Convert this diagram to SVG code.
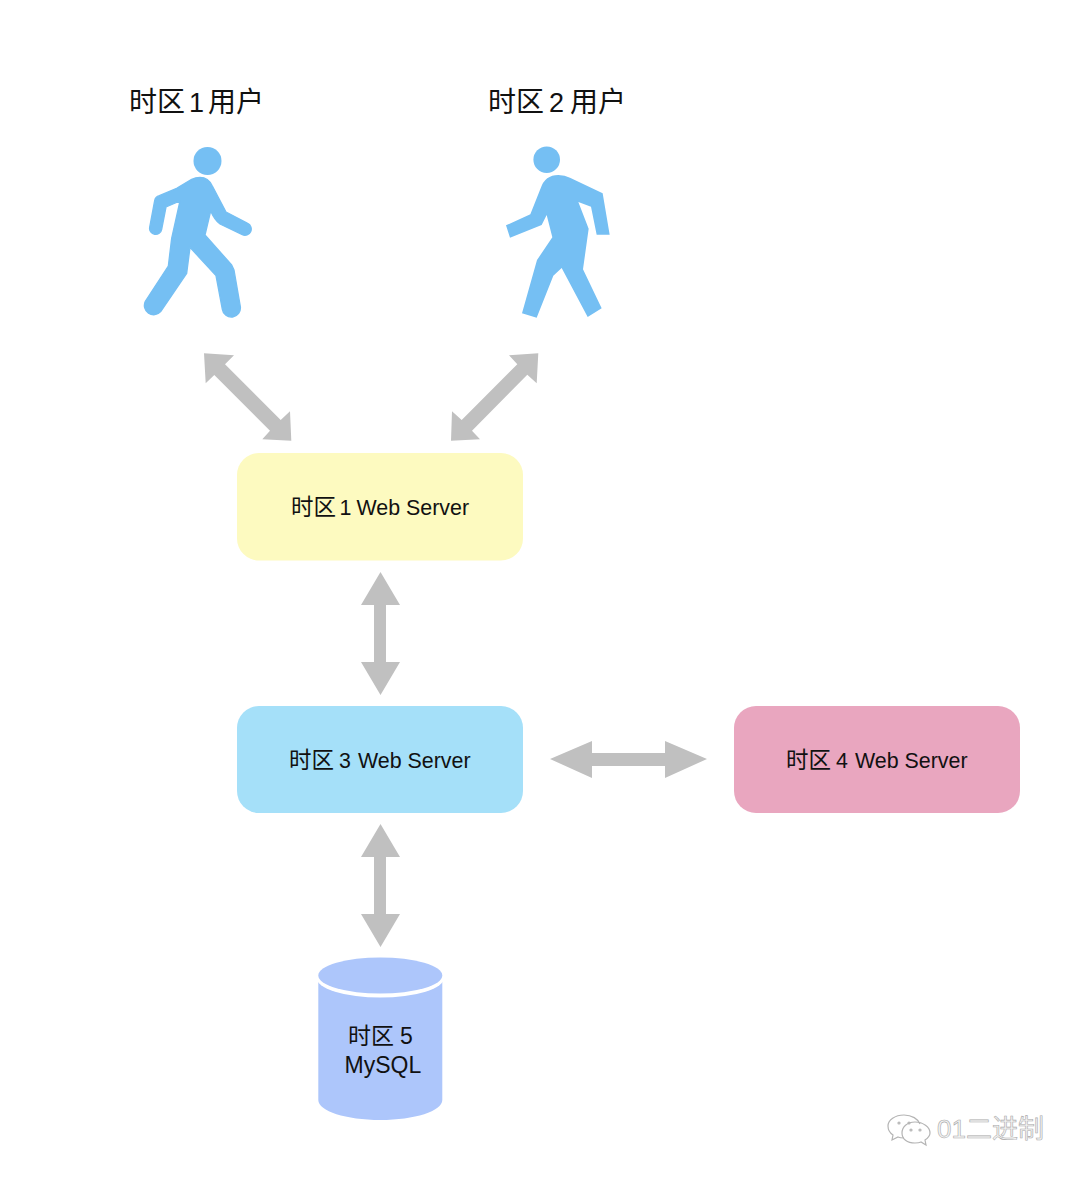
<svg xmlns="http://www.w3.org/2000/svg" width="1080" height="1177" viewBox="0 0 1080 1177">
<style>
text{font-family:"Liberation Sans","Noto Sans CJK SC",sans-serif;fill:#111}
.title{font-size:27px}
.title .c{font-size:28px}
.label{font-size:21.400px}
.label .c{font-size:22.500px}
.db{font-size:23px}
.walker{fill:#75bff3}
.arrow{fill:#c0c0c0}
.mark{fill:none;stroke:#b4b4b4;stroke-width:1.2}
</style>
<rect width="1080" height="1177" fill="#fff"/>
<g id="user1">
<text class="title" y="112"><tspan class="c" x="129">时区</tspan><tspan x="189">1</tspan><tspan class="c" x="208">用户</tspan></text>
<circle class="walker" cx="207.5" cy="161" r="14"/>
<path class="walker" stroke="#75bff3" stroke-width="4" stroke-linejoin="round" transform="translate(120 130) scale(.33333)" d="M240 142Q265 142 277 168L318 246L383 280A18 18 0 0 1 367 314L300 282Q285 272 272 243L255 315L335 405L342 420L361 530A27 27 0 0 1 307 538L288 437L210 352L200 430L122 545A28 28 0 0 1 76 514L145 408L155 325L180 213L138 231L125 298A18 18 0 0 1 89 292L104 212Q106 200 118 197L170 175L215 148Q227 142 240 142Z"/>
</g>
<g id="user2">
<text class="title" y="112"><tspan class="c" x="488">时区</tspan><tspan x="549">2</tspan><tspan class="c" x="570">用户</tspan></text>
<circle class="walker" cx="546.7" cy="159.7" r="13.3"/>
<path class="walker" transform="translate(490 130) scale(.33333)" d="M205 135Q225 135 240 143L338 190L359 314L320 314L303 230L265 216L296 296L279 418L335 535L293 561L215 414L190 437L140 563L96 550L141 390L187 322L170 255L155 285L60 323L48 286L121 253L152 175Q165 135 205 135Z"/>
</g>
<g id="connectors">
<polygon class="arrow" points="204,353.3 234,355.3 225,364.3 280.7,420 290,411.3 291.3,440.7 262.3,439.3 270,430.7 214.3,375 205.7,383.3"/>
<polygon class="arrow" points="538.3,353.3 509,355.3 517.3,364.3 461.7,420 452,411.3 451,440.700 480,439.3 472,430.7 527.3,374.7 536.7,383.3"/>
<polygon class="arrow" points="380.5,572 400,605 386,605 386,662 400,662 380.5,695 361,662 374,662 374,605 361,605"/>
<polygon class="arrow" points="380.5,824 400,857 386,857 386,914 400,914 380.5,947 361,914 374,914 374,857 361,857"/>
<polygon class="arrow" points="550,759 592,741 592,753 665,753 665,741 707,759 665,778 665,766 592,766 592,778"/>
</g>
<g id="server1">
<rect x="237" y="453" width="286" height="107.500" rx="22" fill="#fdfac0"/>
<text class="label" y="515"><tspan class="c" x="291">时区</tspan><tspan x="339.500">1</tspan><tspan x="356.500">Web Server</tspan></text>
</g>
<g id="server3">
<rect x="237" y="706" width="286" height="107" rx="22" fill="#a5e0f9"/>
<text class="label" y="768"><tspan class="c" x="289">时区</tspan><tspan x="339">3</tspan><tspan x="358">Web Server</tspan></text>
</g>
<g id="server4">
<rect x="734" y="706" width="286" height="107" rx="22" fill="#e9a6bf"/>
<text class="label" y="768"><tspan class="c" x="786">时区</tspan><tspan x="836">4</tspan><tspan x="855">Web Server</tspan></text>
</g>
<g id="mysql">
<path d="M318.300 977V1100C318.300 1111 346 1120 380.300 1120S442.300 1111 442.300 1100V977Z" fill="#adc6fb"/>
<ellipse cx="380.300" cy="977.500" rx="64" ry="20" fill="#fff"/>
<ellipse cx="380.300" cy="975.500" rx="62" ry="18" fill="#adc6fb"/>
<text class="db" y="1044"><tspan x="348">时区</tspan><tspan x="400">5</tspan></text>
<text class="db" x="344.500" y="1073">MySQL</text>
</g>
<g id="watermark">
<path class="mark" d="M904 1115C895 1115 888 1120 888 1126C888 1130 890 1133 893 1135L892 1140L898 1137C900 1138 902 1138 904 1138"/>
<path class="mark" d="M904 1115C912 1115 918 1119 920 1124"/>
<path class="mark" d="M915 1122C907 1122 902 1127 902 1133C902 1139 907 1143 915 1143C917 1143 919 1143 921 1142L926 1145L925 1140C928 1138 930 1136 930 1133C930 1127 923 1122 915 1122Z"/>
<circle class="mark" cx="899" cy="1123" r="1"/><circle class="mark" cx="909" cy="1123" r="1"/>
<circle class="mark" cx="911" cy="1130" r="1"/><circle class="mark" cx="920" cy="1130" r="1"/>
<text x="937" y="1138" font-size="26" style="fill:#f4f4f4;stroke:#aaa;stroke-width:.6">01二进制</text>
</g>
</svg>
